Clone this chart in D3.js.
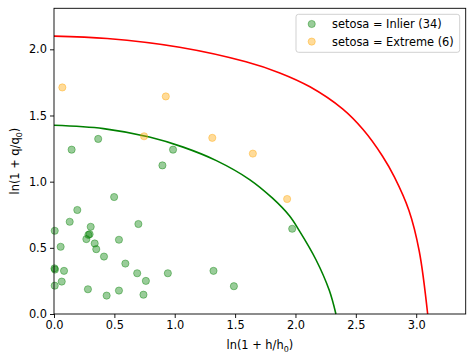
<!DOCTYPE html>
<html>
<head>
<meta charset="utf-8">
<script src="https://cdn.jsdelivr.net/npm/d3@7"></script>
<style>
  html, body { margin: 0; padding: 0; background: #fff; }
  svg { display: block; }
  text { font-family: "DejaVu Sans", sans-serif; fill: #000; }
</style>
</head>
<body>
<svg id="chart" width="474" height="361"></svg>
<script>
// ---- data ----
const inlierX = [0.498, 0.193, 0.130, 0.006, 0.304, 0.699, 0.285, 0.295, 0.268, 0.337, 0.350,
                 0.538, 0.055, 0.414, 0.591, 0.004, 0.008, 0.083, 0.689, 0.761, 0.064, 0.006,
                 0.281, 0.538, 0.436, 0.741, 0.943, 1.321, 1.490, 0.146, 0.366, 0.986, 0.898, 1.973];
const inlierY = [0.884, 0.786, 0.697, 0.629, 0.659, 0.680, 0.598, 0.603, 0.566, 0.533, 0.490,
                 0.561, 0.508, 0.434, 0.381, 0.345, 0.336, 0.326, 0.308, 0.250, 0.245, 0.214,
                 0.187, 0.177, 0.139, 0.146, 0.308, 0.326, 0.210, 1.242, 1.323, 1.242, 1.123, 0.644];
const extremeX = [0.069, 0.926, 0.746, 1.311, 1.647, 1.931];
const extremeY = [1.712, 1.644, 1.343, 1.331, 1.212, 0.869];

const redCurveX = [0.0, 0.44, 1.04, 1.59, 1.87, 2.12, 2.39, 2.56, 2.72, 2.82, 2.94, 3.025, 3.095];
const redCurveY = [2.10, 2.082, 2.016, 1.906, 1.822, 1.717, 1.550, 1.394, 1.194, 1.034, 0.782, 0.476, 0.0];
const greenCurveX = [0.0, 0.41, 0.79, 1.07, 1.345, 1.62, 1.81, 1.95, 2.03, 2.17, 2.28, 2.335];
const greenCurveY = [1.426, 1.401, 1.337, 1.261, 1.159, 1.016, 0.875, 0.742, 0.632, 0.410, 0.179, 0.0];

const xTicks = [0.0, 0.5, 1.0, 1.5, 2.0, 2.5, 3.0];
const yTicks = [0.0, 0.5, 1.0, 1.5, 2.0];
const legendLabels = ["setosa = Inlier (34)", "setosa = Extreme (6)"];
const xDomain = [0, 3.41];
const yDomain = [0, 2.31];

// ---- layout ----
const svg = d3.select("#chart");
const L = 54, R = 465.7, T = 8.3, B = 314;
const FS = 11.4;
const x = d3.scaleLinear().domain(xDomain).range([L, R]);
const y = d3.scaleLinear().domain(yDomain).range([B, T]);

// curves
const line = d3.line().x(d => x(d[0])).y(d => y(d[1])).curve(d3.curveCatmullRom.alpha(0.5));
svg.append("path").datum(greenCurveX.map((v, i) => [v, greenCurveY[i]]))
  .attr("d", line).attr("fill", "none").attr("stroke", "#008000").attr("stroke-width", 1.6);
svg.append("path").datum(redCurveX.map((v, i) => [v, redCurveY[i]]))
  .attr("d", line).attr("fill", "none").attr("stroke", "#ff0000").attr("stroke-width", 1.6);

// points
function drawPoints(xs, ys, col) {
  svg.append("g").selectAll("circle").data(xs.map((v, i) => [v, ys[i]])).join("circle")
    .attr("cx", d => x(d[0])).attr("cy", d => y(d[1])).attr("r", 3.6)
    .attr("fill", col).attr("fill-opacity", 0.4)
    .attr("stroke", col).attr("stroke-opacity", 0.4).attr("stroke-width", 1);
}
drawPoints(inlierX, inlierY, "#008000");
drawPoints(extremeX, extremeY, "#ffa500");

// axes
const xAxis = d3.axisBottom(x).tickValues(xTicks).tickFormat(d3.format(".1f")).tickSizeOuter(0).tickSize(4).tickPadding(3);
const yAxis = d3.axisLeft(y).tickValues(yTicks).tickFormat(d3.format(".1f")).tickSizeOuter(0).tickSize(4).tickPadding(3);
const gx = svg.append("g").attr("transform", `translate(0,${B})`).call(xAxis);
const gy = svg.append("g").attr("transform", `translate(${L},0)`).call(yAxis);
[gx, gy].forEach(g => {
  g.select(".domain").remove();
  g.selectAll("text").attr("font-size", FS).attr("font-family", "DejaVu Sans").attr("fill", "#000");
  g.selectAll("line").attr("stroke", "#000").attr("stroke-width", 0.9);
});

// frame
svg.append("rect").attr("x", L).attr("y", T).attr("width", R - L).attr("height", B - T)
  .attr("fill", "none").attr("stroke", "#000").attr("stroke-width", 0.9);

// axis labels
const xl = svg.append("text").attr("x", (L + R) / 2).attr("y", 349).attr("text-anchor", "middle").attr("font-size", FS);
xl.append("tspan").text("ln(1 + h/h");
xl.append("tspan").attr("font-size", FS * 0.7).attr("dy", 2.5).text("0");
xl.append("tspan").attr("dy", -2.5).text(")");

const yl = svg.append("text").attr("transform", `translate(19,${(T + B) / 2}) rotate(-90)`)
  .attr("text-anchor", "middle").attr("font-size", FS);
yl.append("tspan").text("ln(1 + q/q");
yl.append("tspan").attr("font-size", FS * 0.7).attr("dy", 2.5).text("0");
yl.append("tspan").attr("dy", -2.5).text(")");

// legend
const lg = svg.append("g");
lg.append("rect").attr("x", 296).attr("y", 14.3).attr("width", 163.7).attr("height", 38)
  .attr("rx", 2.5).attr("fill", "#fff").attr("fill-opacity", 0.8).attr("stroke", "#cccccc").attr("stroke-width", 0.9);
const legCols = ["#008000", "#ffa500"];
legendLabels.forEach((lab, i) => {
  const cy = 24 + i * 17.6;
  lg.append("circle").attr("cx", 311.7).attr("cy", cy).attr("r", 3.6)
    .attr("fill", legCols[i]).attr("fill-opacity", 0.4)
    .attr("stroke", legCols[i]).attr("stroke-opacity", 0.4).attr("stroke-width", 1);
  lg.append("text").attr("x", 332).attr("y", cy + 4).attr("font-size", FS).text(lab);
});
</script>
</body>
</html>
